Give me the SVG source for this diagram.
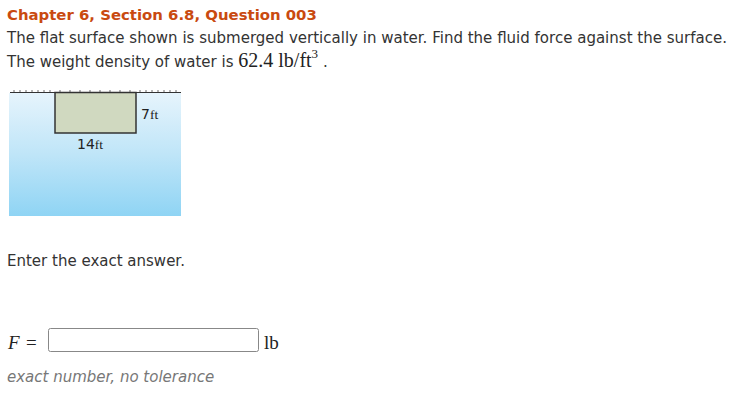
<svg xmlns="http://www.w3.org/2000/svg" width="753" height="405" viewBox="0 0 753 405">
<style>
.t{font-family:"DejaVu Sans",Verdana,sans-serif;font-size:15px;fill:#333}
.m{font-family:"Liberation Serif","Times New Roman",serif;fill:#222}
.lbl{font-family:"Liberation Serif",serif;font-size:13.5px;fill:#222}
</style>
<defs>
<linearGradient id="water" x1="0" y1="0" x2="0" y2="1">
<stop offset="0" stop-color="#e6f4fc"/>
<stop offset="0.5" stop-color="#bfe5f8"/>
<stop offset="1" stop-color="#8fd4f4"/>
</linearGradient>
</defs>
<rect width="753" height="405" fill="#fff"/>
<text x="7" y="20" style="font-family:'DejaVu Sans',Verdana,sans-serif;font-size:14.9px;font-weight:bold;fill:#c94a10">Chapter 6, Section 6.8, Question 003</text>
<text class="t" x="7" y="43" textLength="720" lengthAdjust="spacingAndGlyphs">The flat surface shown is submerged vertically in water. Find the fluid force against the surface.</text>
<text class="t" x="7" y="67">The weight density of water is <tspan class="m" style="font-size:20px">62.4 lb/ft</tspan><tspan class="m" dy="-9" style="font-size:13px">3</tspan><tspan dy="9"> .</tspan></text>
<g id="diagram">
<rect x="9" y="93" width="172" height="123" fill="url(#water)"/>
<line x1="10" y1="92.5" x2="181" y2="92.5" stroke="#333" stroke-width="1"/>
<path d="M14 92V90M20 92V90M26 92V90M32 92V90M38 92V90M44 92V90M50 92V90M60 92V90M70 92V90M80 92V90M90 92V90M100 92V90M110 92V90M120 92V90M130 92V90M140 92V90M146 92V90M152 92V90M158 92V90M164 92V90M170 92V90M176 92V90" stroke="#444" stroke-width="0.8"/>
<g id="plate">
<rect x="55" y="92.5" width="81" height="40.5" fill="#d0d9c0" stroke="#333" stroke-width="1.5"/>
</g>
<text class="lbl" x="141" y="119"><tspan style="font-family:'DejaVu Sans',sans-serif;font-size:14px">7</tspan>ft</text>
<text class="lbl" x="77" y="149"><tspan style="font-family:'DejaVu Sans',sans-serif;font-size:14px">14</tspan>ft</text>
</g>
<text class="t" x="7" y="266">Enter the exact answer.</text>
<text class="m" x="8" y="349" style="font-size:19px;font-style:italic">F</text>
<text class="m" x="26" y="349" style="font-size:19px">=</text>
<rect x="48.5" y="328.5" width="210" height="23" rx="2" fill="#fff" stroke="#888" stroke-width="1"/>
<text class="m" x="264" y="349" style="font-size:19px">lb</text>
<text class="t" x="7" y="382" style="font-style:italic;fill:#777">exact number, no tolerance</text>
</svg>
